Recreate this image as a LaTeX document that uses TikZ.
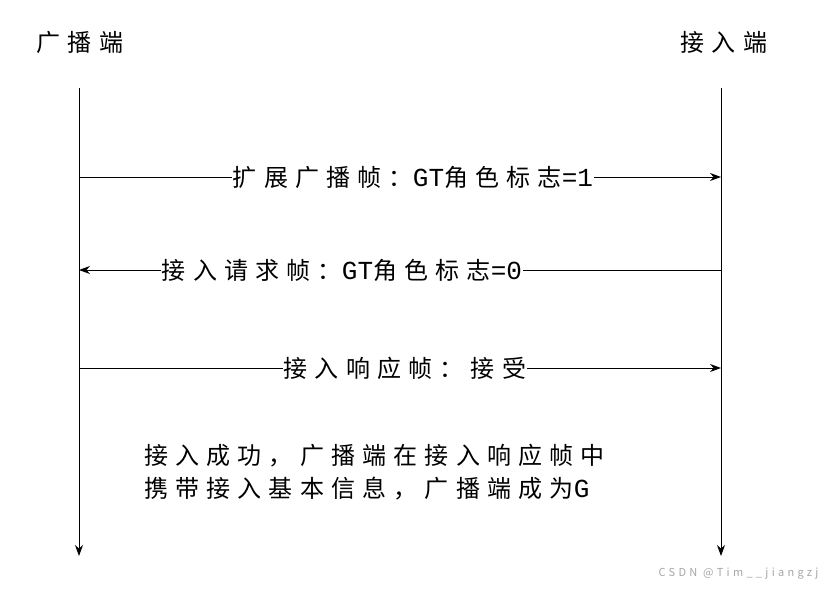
\documentclass[tikz,border=0pt]{standalone}
\usepackage{fontspec}
\setmainfont{Noto Sans CJK SC}[LetterSpace=30]
\newfontfamily\lat{Liberation Mono}
\newcommand{\lt}[1]{{\lat\fontsize{26}{30}\selectfont #1}}
\usetikzlibrary{arrows.meta}
\tikzset{msg/.style={-{Stealth[length=11pt,width=8pt]},line width=0.9pt},
lbl/.style={fill=white,inner sep=1pt,font=\fontsize{24}{30}\selectfont},
life/.style={-{Stealth[length=11pt,width=8pt]},line width=0.9pt}}
\begin{document}
\begin{tikzpicture}[x=1pt,y=-1pt]
\useasboundingbox[fill=white] (0,0) rectangle (831,589);
\node[font=\fontsize{24}{30}\selectfont] (hl) at (80,42) {广播端};
\node[font=\fontsize{24}{30}\selectfont] (hr) at (724,42) {接入端};
\coordinate (lt) at (79,88); \coordinate (lb) at (79,556);
\coordinate (rt) at (721,88); \coordinate (rb) at (721,556);
\draw[life] (lt) -- (lb);
\draw[life] (rt) -- (rb);
\coordinate (a1) at (79,177); \coordinate (b1) at (721,177);
\coordinate (a2) at (79,270); \coordinate (b2) at (721,270);
\coordinate (a3) at (79,368); \coordinate (b3) at (721,368);
\draw[msg] (a1) -- (b1);
\draw[msg] (b2) -- (a2);
\draw[msg] (a3) -- (b3);
\node[lbl] (m1) at (413,177) {扩展广播帧：\lt{GT}角色标志\lt{=1}};
\node[lbl] (m2) at (342,270) {接入请求帧：\lt{GT}角色标志\lt{=0}};
\node[lbl] (m3) at (405,368) {接入响应帧：接受};
\node[anchor=north west,align=left,font=\fontsize{24}{33}\selectfont,inner sep=0pt] (note) at (144,444) {接入成功，广播端在接入响应帧中\\携带接入基本信息，广播端成为\lt{G}};
\node[anchor=east,text=gray!70,font=\fontsize{11}{12}\selectfont] (wm) at (822,574) {CSDN @Tim\_\_jiangzj};
\end{tikzpicture}
\end{document}
